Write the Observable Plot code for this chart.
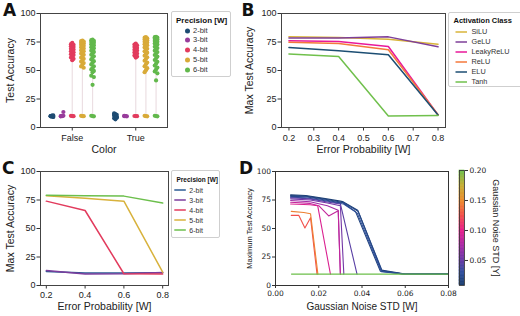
<!DOCTYPE html>
<html><head><meta charset="utf-8">
<script src="https://cdn.jsdelivr.net/npm/d3@7"></script>
<script src="https://cdn.jsdelivr.net/npm/@observablehq/plot@0.6"></script>
<style>
html,body{margin:0;padding:0;background:#fff;}
#fig{position:relative;width:520px;height:316px;overflow:hidden;background:#fff;font-family:"Liberation Sans",Arial,sans-serif;color:#222;}
#fig svg.plot-panel{position:absolute;left:0;top:0;max-width:none;overflow:visible;}
.leg{position:absolute;border:1px solid #cfcfcf;border-radius:2px;background:#fff;box-sizing:border-box;}
.leg .t{position:absolute;font-weight:bold;white-space:nowrap;line-height:1;transform:translateY(-50%);color:#111;}
.leg .r{position:absolute;white-space:nowrap;line-height:1;transform:translateY(-50%);color:#333;}
.leg svg{position:absolute;overflow:visible;}
.letter{position:absolute;font-family:"DejaVu Sans",sans-serif;font-weight:bold;font-size:17px;line-height:1;color:#111;}
</style></head><body><div id="fig"></div>
<script>
// ---------- Panel A data ----------
const colorCats = ["False", "True"];
const precisions = ["2-bit", "3-bit", "4-bit", "5-bit", "6-bit"];
const precisionColors = ["#1d4b72", "#983c9b", "#e23b5d", "#d8aa38", "#62b84c"];

const accFalse2 = [9.6, 10.1, 9.3, 10.4, 9.9, 9.5, 10.2, 9.8, 10.6];
const accFalse3 = [10.1, 9.8, 10.3, 9.9, 10.0, 13.6];
const accFalse4 = [10.0, 10.2, 9.9, 74.3, 73.1, 72.6, 71.9, 71.2, 70.6, 69.9, 69.1, 68.4, 67.6, 66.9, 66.0, 65.2, 64.3, 63.5, 62.6, 61.4, 60.2, 59.1];
const accFalse5 = [10.0, 10.2, 9.9, 76.3, 75.8, 75.4, 74.9, 74.3, 73.8, 73.1, 72.5, 71.8, 71.0, 70.3, 69.4, 68.6, 67.7, 66.9, 65.8, 64.9, 63.8, 62.6, 61.4, 60.3, 59.0, 57.8, 56.5, 55.1, 53.6, 52.4];
const accFalse6 = [10.0, 10.3, 9.8, 77.0, 76.6, 76.1, 75.6, 75.0, 74.4, 73.7, 73.0, 72.2, 71.4, 70.5, 69.6, 68.5, 67.4, 66.3, 65.1, 63.8, 62.5, 61.1, 59.7, 58.2, 56.8, 55.3, 53.7, 52.2, 50.9, 49.6, 48.4, 45.5, 44.2, 37.4];
const accTrue2 = [7.2, 8.1, 9.0, 9.7, 10.4, 11.1, 11.8, 12.4, 8.6, 10.0, 11.4, 9.3];
const accTrue3 = [10.0, 10.2, 9.8, 10.1, 9.9];
const accTrue4 = [10.0, 10.1, 9.9, 73.6, 72.8, 72.1, 71.4, 70.6, 69.8, 69.0, 68.2, 67.5, 66.7, 65.8, 64.9, 64.0, 63.1, 62.2, 61.3];
const accTrue5 = [10.0, 10.2, 9.8, 79.2, 78.8, 78.3, 77.8, 77.2, 76.6, 76.0, 75.3, 74.6, 73.8, 73.0, 72.1, 71.2, 70.2, 69.1, 68.0, 66.8, 65.6, 64.3, 63.0, 61.6, 60.1, 58.6, 57.0, 55.4, 53.7, 52.0, 50.3, 48.5];
const accTrue6 = [10.0, 10.3, 9.8, 79.6, 79.2, 78.8, 78.3, 77.8, 77.2, 76.6, 75.9, 75.2, 74.4, 73.6, 72.7, 71.8, 70.8, 69.7, 68.6, 67.4, 66.2, 64.9, 63.6, 62.2, 60.7, 59.2, 57.6, 56.0, 54.3, 52.6, 50.9, 49.2, 47.5, 41.3];

// ---------- Panel B data ----------
const errorProbs = [0.2, 0.4, 0.6, 0.8];
const activations = ["SiLU", "GeLU", "LeakyReLU", "ReLU", "ELU", "Tanh"];
const activationColors = ["#d9b43a", "#7e3f98", "#e8199a", "#f4793b", "#1c4e73", "#70c04c"];
const accSiLU = [79.5, 79.0, 77.5, 73.0];
const accGeLU = [78.5, 78.4, 79.5, 70.8];
const accLeakyReLU = [76.0, 75.4, 71.0, 11.0];
const accReLU = [74.7, 73.7, 68.2, 11.2];
const accELU = [70.2, 67.3, 63.8, 11.0];
const accTanh = [64.4, 62.3, 10.0, 10.6];

// ---------- Panel C data ----------
const precLineColors = ["#2a5a93", "#7c3d9d", "#e23b5d", "#d8b23c", "#6cbf4c"];
const acc2bit = [12.3, 11.0, 11.0, 11.2];
const acc3bit = [13.2, 10.0, 10.3, 11.5];
const acc4bit = [74.0, 65.8, 10.3, 10.0];
const acc5bit = [78.7, 76.6, 74.0, 11.7];
const acc6bit = [79.2, 78.8, 78.4, 72.3];

// ---------- Panel D data ----------
const stdY = [0.012, 0.016, 0.021, 0.028, 0.045, 0.055, 0.072, 0.085, 0.095, 0.125, 0.145, 0.2];
const curvesW = [
  [[0.0070,79.5],[0.014,79.0],[0.023,76.2],[0.0300,74.0],[0.0310,73.6],[0.0380,66.0],[0.0490,13.5],[0.0600,10.0],[0.0800,10.2]],
  [[0.0070,78.8],[0.014,78.4],[0.023,75.6],[0.0300,73.2],[0.0310,72.8],[0.0370,64.8],[0.0485,12.5],[0.0600,10.0],[0.0800,10.0]],
  [[0.0070,78.2],[0.014,77.8],[0.023,75.0],[0.0300,72.5],[0.0310,73.2],[0.0382,65.2],[0.0493,13.0],[0.0593,10.0],[0.0800,10.0]],
  [[0.0070,77.4],[0.014,77.0],[0.023,74.4],[0.0300,72.0],[0.0315,71.5],[0.0378,63.5],[0.0490,12.0],[0.0600,10.0],[0.0800,10.0]],
  [[0.0070,77.0],[0.016,76.0],[0.024,73.2],[0.0300,71.5],[0.0377,10.0]],
  [[0.0070,76.0],[0.016,75.0],[0.024,72.4],[0.0300,70.0],[0.0316,10.0]],
  [[0.0070,74.5],[0.016,73.5],[0.024,70.0],[0.0290,66.0],[0.0300,10.0]],
  [[0.0070,73.0],[0.016,72.0],[0.0200,70.0],[0.0246,61.0],[0.0290,65.5],[0.0300,10.0]],
  [[0.0070,71.5],[0.016,70.8],[0.0195,70.0],[0.0254,10.0]],
  [[0.0073,61.5],[0.0108,61.5],[0.0136,50.5],[0.0162,59.5],[0.0192,10.0]],
  [[0.0073,65.0],[0.0131,64.0],[0.0162,63.0],[0.0196,10.0]],
  [[0.0074,10.0],[0.0200,10.0],[0.0400,10.0],[0.0600,10.0],[0.0800,10.0]]
];
const stdTicksW = [0, 0.02, 0.04, 0.06, 0.08];
const stdTicksY = [0.05, 0.10, 0.15, 0.20];
const cmapDomain = [0.0083, 0.03, 0.05, 0.075, 0.1, 0.125, 0.15, 0.175, 0.2];
const cmapRange = ["#1a3d6b", "#2f4f9e", "#673aa6", "#aa2aa6", "#e61f8a", "#f2504a", "#ec8c2c", "#c6ae34", "#6cbf4a"];
const accTicks = [0, 25, 50, 75, 100];

// ---------- helpers ----------
const fig = document.getElementById("fig");
const sans = "'Liberation Sans', Arial, sans-serif";
const dejavu = "'DejaVu Sans', sans-serif";
function baseStyle(ff, fs) {
  return {background: "transparent", fontFamily: ff, fontSize: fs, color: "#222", overflow: "visible"};
}
function add(svg) { svg.classList.add("plot-panel"); fig.appendChild(svg); }
const label = (txt, opts) => Plot.text([txt], {text: d => d, fill: "#222", textAnchor: "middle", lineAnchor: "middle", ...opts});

// ---------- Panel A ----------
const aArrays = [[accFalse2, accFalse3, accFalse4, accFalse5, accFalse6], [accTrue2, accTrue3, accTrue4, accTrue5, accTrue6]];
const rowsA = [];
colorCats.forEach((c, ci) => precisions.forEach((p, pi) => aArrays[ci][pi].forEach((v, i) =>
  rowsA.push({color: c, precision: p, pos: ci + (pi - 2) * 0.16, acc: v, k: i % 3}))));
add(Plot.plot({
  width: 520, height: 316, marginLeft: 40, marginRight: 353, marginTop: 13, marginBottom: 189,
  style: baseStyle(sans, "9px"),
  x: {domain: [-0.5, 1.5]}, y: {domain: [0, 100]},
  color: {domain: precisions, range: precisionColors},
  marks: [
    Plot.ruleX(rowsA, Plot.groupX({y1: "min", y2: "max"}, {x: "pos", y1: "acc", y2: "acc", stroke: "#ecdfe3", strokeWidth: 1.2})),
    Plot.dot(rowsA.filter(d => d.k === 0), {x: "pos", y: "acc", fill: "precision", r: 2.1, dx: 0}),
    Plot.dot(rowsA.filter(d => d.k === 1), {x: "pos", y: "acc", fill: "precision", r: 2.1, dx: -1.3}),
    Plot.dot(rowsA.filter(d => d.k === 2), {x: "pos", y: "acc", fill: "precision", r: 2.1, dx: 1.3}),
    Plot.axisY({ticks: accTicks, tickSize: 3.5, tickPadding: 1.5, label: null, stroke: "#333"}),
    Plot.axisX({ticks: [0, 1], tickFormat: i => colorCats[i], tickSize: 3.5, tickPadding: 3.5, label: null, stroke: "#333"}),
    label("Test Accuracy", {frameAnchor: "left", rotate: -90, dx: -29.5, fontSize: 10.5}),
    label("Color", {frameAnchor: "bottom", dy: 22.5, fontSize: 10.5}),
    Plot.frame({stroke: "#444"})
  ]
}));

// ---------- Panel B ----------
const bSeries = [accSiLU, accGeLU, accLeakyReLU, accReLU, accELU, accTanh];
const rowsB = activations.flatMap((a, ai) => errorProbs.map((e, i) => ({act: a, err: e, acc: bSeries[ai][i]})));
add(Plot.plot({
  width: 520, height: 316, marginLeft: 281, marginRight: 75, marginTop: 13, marginBottom: 189,
  style: baseStyle(sans, "9px"),
  x: {domain: [0.17, 0.83]}, y: {domain: [0, 100]},
  color: {domain: activations, range: activationColors},
  marks: [
    Plot.line(rowsB, {x: "err", y: "acc", stroke: "act", z: "act", strokeWidth: 1.5}),
    Plot.axisY({ticks: accTicks, tickSize: 3.5, tickPadding: 1.5, label: null, stroke: "#333"}),
    Plot.axisX({ticks: [0.2, 0.3, 0.4, 0.5, 0.6, 0.7, 0.8], tickFormat: d3.format(".1f"), tickSize: 3.5, tickPadding: 3.5, label: null, stroke: "#333"}),
    label("Max Test Accuracy", {frameAnchor: "left", rotate: -90, dx: -31.5, fontSize: 10.5}),
    label("Error Probability [W]", {frameAnchor: "bottom", dy: 22.5, fontSize: 10.5}),
    Plot.frame({stroke: "#444"})
  ]
}));

// ---------- Panel C ----------
const cSeries = [acc2bit, acc3bit, acc4bit, acc5bit, acc6bit];
const rowsC = precisions.flatMap((p, pi) => errorProbs.map((e, i) => ({prec: p, err: e, acc: cSeries[pi][i]})));
add(Plot.plot({
  width: 520, height: 316, marginLeft: 40, marginRight: 352, marginTop: 171, marginBottom: 31,
  style: baseStyle(sans, "9px"),
  x: {domain: [0.17, 0.83]}, y: {domain: [0, 100]},
  color: {domain: precisions, range: precLineColors},
  marks: [
    Plot.line(rowsC, {x: "err", y: "acc", stroke: "prec", z: "prec", strokeWidth: 1.5}),
    Plot.axisY({ticks: accTicks, tickSize: 3.5, tickPadding: 1.5, label: null, stroke: "#333"}),
    Plot.axisX({ticks: errorProbs, tickFormat: d3.format(".1f"), tickSize: 3.5, tickPadding: 3, label: null, stroke: "#333"}),
    label("Max Test Accuracy", {frameAnchor: "left", rotate: -90, dx: -30, fontSize: 10.5}),
    label("Error Probability [W]", {frameAnchor: "bottom", dy: 21.5, fontSize: 10.5}),
    Plot.frame({stroke: "#444"})
  ]
}));

// ---------- Panel D ----------
const rowsD = curvesW.flatMap((c, ci) => c.map(([w, a]) => ({run: ci, sy: stdY[ci], w, acc: a})));
const dColor = {type: "linear", domain: cmapDomain, range: cmapRange};
add(Plot.plot({
  width: 520, height: 316, marginLeft: 275, marginRight: 72, marginTop: 171, marginBottom: 31,
  style: baseStyle(dejavu, "7.5px"),
  x: {domain: [0, 0.08]}, y: {domain: [0, 100]},
  color: dColor,
  marks: [
    Plot.line(rowsD, {x: "w", y: "acc", z: "run", stroke: "sy", strokeWidth: 1.1}),
    Plot.axisY({ticks: accTicks, tickSize: 3, tickPadding: 1.5, label: null, stroke: "#333"}),
    Plot.axisX({ticks: stdTicksW, tickFormat: d3.format(".2f"), tickSize: 3, tickPadding: 2.5, label: null, stroke: "#333"}),
    label("Maximum Test Accuracy", {frameAnchor: "left", rotate: -90, dx: -26, fontSize: 7.5, fontFamily: sans}),
    label("Gaussian Noise STD [W]", {frameAnchor: "bottom", dy: 21.5, fontSize: 10, fontFamily: sans}),
    Plot.frame({stroke: "#333"})
  ]
}));

// ---------- Colorbar for D ----------
const nSteps = 80;
const barStep = (cmapDomain[cmapDomain.length - 1] - cmapDomain[0]) / nSteps;
const barVals = d3.range(nSteps).map(i => cmapDomain[0] + i * barStep);
add(Plot.plot({
  width: 520, height: 316, marginLeft: 459, marginRight: 56, marginTop: 170, marginBottom: 31,
  style: baseStyle(dejavu, "7.5px"),
  x: {domain: [0, 1], axis: null}, y: {domain: [cmapDomain[0], 0.2]},
  color: dColor,
  marks: [
    Plot.rect(barVals, {x1: 0, x2: 1, y1: d => d, y2: d => d + barStep, fill: d => d + barStep / 2, stroke: d => d + barStep / 2, strokeWidth: 0.6}),
    Plot.axisY({anchor: "right", ticks: stdTicksY, tickFormat: d3.format(".2f"), tickSize: 3, tickPadding: 2, label: null, stroke: "#333"}),
    label("Gaussian Noise STD [Y]", {frameAnchor: "right", rotate: 90, dx: 31, fontSize: 9, fontFamily: sans}),
    Plot.frame({stroke: "#333", strokeWidth: 0.8})
  ]
}));

// ---------- Legends ----------
function legend(o) {
  const div = document.createElement("div");
  div.className = "leg";
  Object.assign(div.style, {left: o.left + "px", top: o.top + "px", width: o.width + "px", height: o.height + "px"});
  const t = document.createElement("div");
  t.className = "t"; t.textContent = o.title;
  Object.assign(t.style, {left: o.titleX + "px", top: o.titleY + "px", fontSize: o.titleSize + "px"});
  div.appendChild(t);
  o.items.forEach((name, i) => {
    const y = o.firstY + i * o.step;
    const svg = document.createElementNS("http://www.w3.org/2000/svg", "svg");
    svg.setAttribute("width", 20); svg.setAttribute("height", 10);
    Object.assign(svg.style, {left: "0px", top: (y - 5) + "px"});
    if (o.kind === "dot") {
      const c = document.createElementNS(svg.namespaceURI, "circle");
      c.setAttribute("cx", o.swX); c.setAttribute("cy", 5); c.setAttribute("r", 2.5); c.setAttribute("fill", o.colors[i]);
      svg.appendChild(c);
    } else {
      const l = document.createElementNS(svg.namespaceURI, "line");
      l.setAttribute("x1", o.swX); l.setAttribute("x2", o.swX + o.swW); l.setAttribute("y1", 5); l.setAttribute("y2", 5);
      l.setAttribute("stroke", o.colors[i]); l.setAttribute("stroke-width", 1.5);
      svg.appendChild(l);
    }
    div.appendChild(svg);
    const r = document.createElement("div");
    r.className = "r"; r.textContent = name;
    Object.assign(r.style, {left: o.textX + "px", top: y + "px", fontSize: o.itemSize + "px"});
    div.appendChild(r);
  });
  fig.appendChild(div);
}
legend({left: 171, top: 11, width: 60, height: 66, title: "Precision [W]", titleSize: 8, titleX: 4, titleY: 8.5,
  items: precisions, colors: precisionColors, kind: "dot", swX: 15.5, textX: 21, itemSize: 7.5, firstY: 18.5, step: 9.8});
legend({left: 448, top: 12, width: 80, height: 75, title: "Activation Class", titleSize: 7.5, titleX: 4.5, titleY: 7.5,
  items: activations, colors: activationColors, kind: "line", swX: 6.5, swW: 11.5, textX: 22.5, itemSize: 7.3, firstY: 19, step: 10});
legend({left: 171, top: 170, width: 49, height: 68, title: "Precision [W]", titleSize: 6.5, titleX: 4.5, titleY: 8.5,
  items: precisions, colors: precLineColors, kind: "line", swX: 2.3, swW: 11.5, textX: 17.3, itemSize: 7, firstY: 18.5, step: 10.1});

// ---------- Panel letters ----------
[["A", 3, 1.5], ["B", 241.5, 2], ["C", 2, 159.5], ["D", 239, 160]].forEach(([s, x, y]) => {
  const d = document.createElement("div");
  d.className = "letter"; d.textContent = s;
  Object.assign(d.style, {left: x + "px", top: y + "px"});
  fig.appendChild(d);
});
</script></body></html>
